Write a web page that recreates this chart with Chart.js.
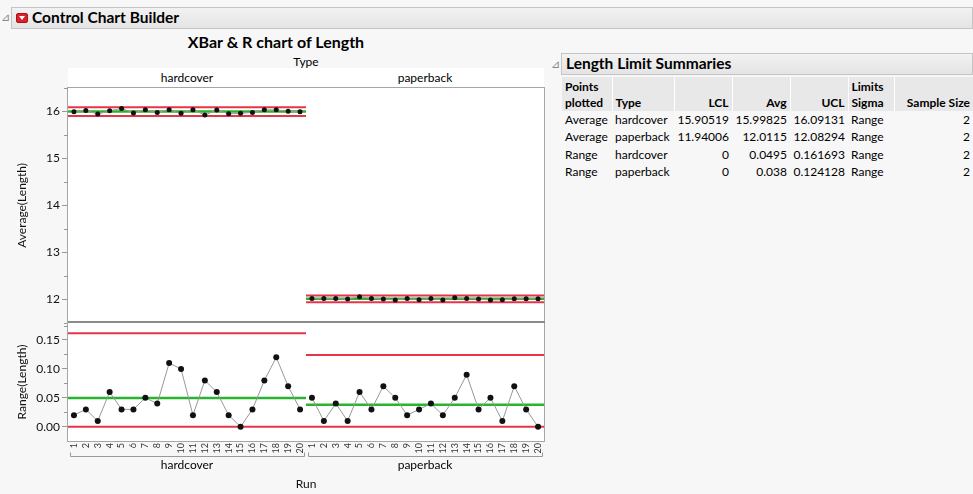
<!DOCTYPE html>
<html>
<head>
<meta charset="utf-8">
<script src="https://cdn.jsdelivr.net/npm/chart.js@4.4.1/dist/chart.umd.min.js"></script>
<style>
body { margin: 0; background: #f7f7f7; font-family: Lato, "Open Sans", sans-serif; color: #000; }
#page { position: relative; width: 973px; height: 494px; overflow: hidden; }
.abs { position: absolute; white-space: nowrap; }
.tri { color: #888; font-size: 11px; }
.bar { background: linear-gradient(#f2f2f2, #e4e4e4); border: 1px solid #c4c4c4; font-weight: bold; box-sizing: border-box; }
.redbtn { position: absolute; left: 4px; top: 5px; width: 12px; height: 10px; background: #d8232a; border: 1px solid #b01018; border-radius: 2px; box-sizing: border-box; }
.redbtn:after { content: ""; position: absolute; left: 2px; top: 2px; border-left: 3px solid transparent; border-right: 3px solid transparent; border-top: 4px solid #fff; }
#strip { left: 68px; top: 68px; width: 476px; height: 20px; background: #fff; }
#strip span { position: absolute; top: 2px; font-size: 12px; transform: translateX(-50%); }
canvas { position: absolute; }
#summ { position: absolute; left: 562px; top: 77px; width: 411px; table-layout: fixed; border-collapse: collapse; font-size: 12px; }
#summ th { background: #e8e8e8; border-right: 1px solid #fff; vertical-align: bottom; text-align: right; font-weight: bold; padding: 0 3px 0 3px; line-height: 16px; height: 34px; }
#summ th:last-child { border-right: none; }
#summ td { text-align: right; padding: 0 3px; line-height: 17.3px; height: 17px; white-space: nowrap; }
#summ .l { text-align: left; }
</style>
</head>
<body>
<div id="page">
  <div class="abs tri" style="left:1px; top:10px;">&#8895;</div>
  <div class="abs bar" style="left:11px; top:7px; width:962px; height:22px; font-size:15.5px;">
    <span class="redbtn"></span>
    <span style="position:absolute; left:20px; top:0px;">Control Chart Builder</span>
  </div>

  <div class="abs" style="left:276px; top:32px; transform:translateX(-50%); font-weight:bold; font-size:16px;">XBar &amp; R chart of Length</div>
  <div class="abs" style="left:306px; top:54px; transform:translateX(-50%); font-size:12px;">Type</div>
  <div class="abs" id="strip"><span style="left:119px;">hardcover</span><span style="left:357px;">paperback</span></div>

  <canvas id="upper" width="552" height="254" style="left:0; top:78px;"></canvas>
  <canvas id="lower" width="552" height="181" style="left:0; top:313px;"></canvas>

  <div class="abs" style="left:187px; top:457px; transform:translateX(-50%); font-size:12px;">hardcover</div>
  <div class="abs" style="left:425px; top:457px; transform:translateX(-50%); font-size:12px;">paperback</div>

  <div class="abs tri" style="left:551px; top:57px;">&#8895;</div>
  <div class="abs bar" style="left:561px; top:53px; width:412px; height:22px; font-size:15.5px;">
    <span style="position:absolute; left:4px; top:0px;">Length Limit Summaries</span>
  </div>
  <table id="summ">
    <colgroup>
      <col style="width:50px"><col style="width:62px"><col style="width:58px"><col style="width:58px">
      <col style="width:58px"><col style="width:46px"><col style="width:79px">
    </colgroup>
    <thead>
      <tr>
        <th class="l">Points<br>plotted</th>
        <th class="l">Type</th>
        <th>LCL</th>
        <th>Avg</th>
        <th>UCL</th>
        <th class="l">Limits<br>Sigma</th>
        <th>Sample Size</th>
      </tr>
    </thead>
    <tbody id="rows"></tbody>
  </table>
</div>

<script>
// run labels along the bottom axis (each group has 20 subgroups)
const runLabels = ['1','2','3','4','5','6','7','8','9','10','11','12','13','14','15','16','17','18','19','20']
const types = ['hardcover', 'paperback']

// subgroup averages (sample size 2)
const hardcoverAvg = [15.995, 16.02, 15.945, 16.015, 16.065, 15.97, 16.035, 15.98, 16.035, 15.96,
	16.035, 15.925, 16.03, 15.95, 15.96, 15.98, 16.035, 16.035, 16.005, 15.995]
const paperbackAvg = [12.02, 12.02, 12.02, 12.005, 12.055, 12.02, 12.005, 11.985, 12.02, 11.99,
	12.02, 11.985, 12.035, 12.02, 12.005, 11.985, 11.99, 12.01, 12.01, 12.01]

// subgroup ranges
const hardcoverRange = [0.02, 0.03, 0.01, 0.06, 0.03, 0.03, 0.05, 0.04, 0.11, 0.10,
	0.02, 0.08, 0.06, 0.02, 0.00, 0.03, 0.08, 0.12, 0.07, 0.03]
const paperbackRange = [0.05, 0.01, 0.04, 0.01, 0.06, 0.03, 0.07, 0.05, 0.02, 0.03,
	0.04, 0.02, 0.05, 0.09, 0.03, 0.05, 0.01, 0.07, 0.03, 0.00]

// limits per type (hardcover, paperback)
const avgLCL = [15.90519, 11.94006]
const avgCL = [15.99825, 12.0115]
const avgUCL = [16.09131, 12.08294]
const rangeLCL = [0, 0]
const rangeCL = [0.0495, 0.038]
const rangeUCL = [0.161693, 0.124128]
const sampleSize = [2, 2]

// axis ticks
const avgTicks = [11.5, 12, 12.5, 13, 13.5, 14, 14.5, 15, 15.5, 16, 16.5]
const rangeTicks = [0, 0.025, 0.05, 0.075, 0.1, 0.125, 0.15, 0.175]

const FONT = 'Lato, "Open Sans", sans-serif'
const RED = 'rgb(232, 52, 72)'
const GREEN = 'rgb(40, 180, 44)'

// summary table
let rows = ''
const addRow = (what, t, l, c, u) => {
	rows += '<tr><td class="l">' + what + '</td><td class="l">' + types[t] + '</td><td>' + l + '</td><td>' + c +
		'</td><td>' + u + '</td><td class="l">Range</td><td>' + sampleSize[t] + '</td></tr>'
}
for(let t = 0; t < 2; ++t) addRow('Average', t, avgLCL[t], avgCL[t], avgUCL[t])
for(let t = 0; t < 2; ++t) addRow('Range', t, rangeLCL[t], rangeCL[t], rangeUCL[t])
document.getElementById('rows').innerHTML = rows

function limitLine(t, value, color, width) {
	return {
		type: 'line',
		data: [{x: t * 20 - 0.5, y: value}, {x: t * 20 + 19.5, y: value}],
		borderColor: color,
		borderWidth: width,
		pointRadius: 0,
		order: 2
	}
}

function pointLine(t, values, radius) {
	return {
		type: 'line',
		data: values.map((v, i) => ({x: t * 20 + i, y: v})),
		borderColor: '#999',
		borderWidth: 1,
		pointRadius: radius,
		pointBackgroundColor: '#111',
		pointBorderWidth: 0,
		order: 1
	}
}

// white plot area, gray frame, short minor ticks
const frame = {
	id: 'frame',
	beforeDraw(chart) {
		const a = chart.chartArea, ctx = chart.ctx
		ctx.save()
		ctx.fillStyle = '#fff'
		ctx.fillRect(a.left, a.top, a.right - a.left, a.bottom - a.top)
		ctx.restore()
	},
	afterDraw(chart, args, opts) {
		const a = chart.chartArea, ctx = chart.ctx, y = chart.scales.y
		ctx.save()
		ctx.strokeStyle = '#a6a6a6'
		ctx.lineWidth = 1
		ctx.strokeRect(a.left - 0.5, a.top - 0.5, a.right - a.left + 1, a.bottom - a.top + 1)
		ctx.strokeStyle = '#8c8c8c'
		ctx.lineWidth = 2
		ctx.beginPath()
		if(opts.thick == 'bottom') { ctx.moveTo(a.left, a.bottom); ctx.lineTo(a.right + 1, a.bottom) }
		else { ctx.moveTo(a.left, a.top - 1); ctx.lineTo(a.right + 1, a.top - 1) }
		ctx.stroke()
		ctx.strokeStyle = '#999'
		ctx.lineWidth = 1
		opts.minor.forEach(v => {
			const p = Math.round(y.getPixelForValue(v)) + 0.5
			ctx.beginPath(); ctx.moveTo(a.left - 4, p); ctx.lineTo(a.left, p); ctx.stroke()
		})
		if(opts.brackets) {
			const x = chart.scales.x
			const by = Math.round(a.bottom + 15) + 0.5
			for(let t = 0; t < 2; ++t) {
				const x0 = Math.round(x.getPixelForValue(t * 20 - 0.3)) + 0.5
				const x1 = Math.round(x.getPixelForValue(t * 20 + 19.3)) + 0.5
				ctx.beginPath()
				ctx.moveTo(x0, by - 4); ctx.lineTo(x0, by); ctx.lineTo(x1, by); ctx.lineTo(x1, by - 4)
				ctx.stroke()
			}
		}
		ctx.restore()
	}
}

function yAxis(min, max, ticks, isMajor, fmt, title, titlePad) {
	return {
		type: 'linear',
		min: min,
		max: max,
		afterFit: (s) => { s.width = 68 },
		afterBuildTicks: (s) => { s.ticks = ticks.filter(isMajor).map(v => ({value: v})) },
		border: {display: false},
		grid: {drawOnChartArea: false, tickLength: 6, color: '#999'},
		ticks: {padding: 2, color: '#111', font: {family: FONT, size: 12}, callback: fmt},
		title: {display: true, text: title, color: '#111', font: {family: FONT, size: 12}, padding: {top: titlePad, bottom: 0}}
	}
}

Chart.defaults.animation = false

new Chart(document.getElementById('upper'), {
	'type': 'line',
	'data': {
		'datasets': [
			limitLine(0, avgLCL[0], RED, 2), limitLine(0, avgUCL[0], RED, 2), limitLine(0, avgCL[0], GREEN, 2.5),
			limitLine(1, avgLCL[1], RED, 2), limitLine(1, avgUCL[1], RED, 2), limitLine(1, avgCL[1], GREEN, 2.5),
			pointLine(0, hardcoverAvg, 2.5), pointLine(1, paperbackAvg, 2.5)
		]
	},
	'options': {
		'responsive': false,
		'layout': {padding: {top: 10, bottom: 8, left: 0, right: 8}},
		'plugins': {legend: {display: false}, tooltip: {enabled: false},
			frame: {thick: 'bottom', minor: avgTicks.filter(v => v % 1 != 0)}},
		'scales': {
			x: {type: 'linear', min: -0.5, max: 39.5, display: false},
			y: yAxis(11.5, 16.5, avgTicks, v => v % 1 == 0, v => v, 'Average(Length)', 15)
		}
	},
	'plugins': [frame]
})

new Chart(document.getElementById('lower'), {
	'type': 'line',
	'data': {
		'datasets': [
			limitLine(0, rangeLCL[0], RED, 2), limitLine(0, rangeUCL[0], RED, 2), limitLine(0, rangeCL[0], GREEN, 2.5),
			limitLine(1, rangeLCL[1], RED, 2), limitLine(1, rangeUCL[1], RED, 2), limitLine(1, rangeCL[1], GREEN, 2.5),
			pointLine(0, hardcoverRange, 3), pointLine(1, paperbackRange, 3)
		]
	},
	'options': {
		'responsive': false,
		'layout': {padding: {top: 10, bottom: 0, left: 0, right: 8}},
		'plugins': {legend: {display: false}, tooltip: {enabled: false},
			frame: {thick: 'top', minor: rangeTicks.filter((v, i) => i % 2 == 1), brackets: true}},
		'scales': {
			x: {
				type: 'linear', min: -0.5, max: 39.5,
				afterFit: (s) => { s.height = 53 },
				afterBuildTicks: (s) => { s.ticks = [...runLabels, ...runLabels].map((l, i) => ({value: i})) },
				border: {display: false},
				grid: {display: false, drawTicks: false},
				ticks: {autoSkip: false, minRotation: 90, maxRotation: 90, padding: 2, color: '#333',
					font: {family: FONT, size: 9}, callback: v => runLabels[v % 20]},
				title: {display: true, text: 'Run', color: '#111', font: {family: FONT, size: 12}, padding: {top: 0, bottom: 3}}
			},
			y: yAxis(-0.0247, 0.1794, rangeTicks, (v, i) => i % 2 == 0, v => v.toFixed(2), 'Range(Length)', 15)
		}
	},
	'plugins': [frame]
})
</script>
</body>
</html>
